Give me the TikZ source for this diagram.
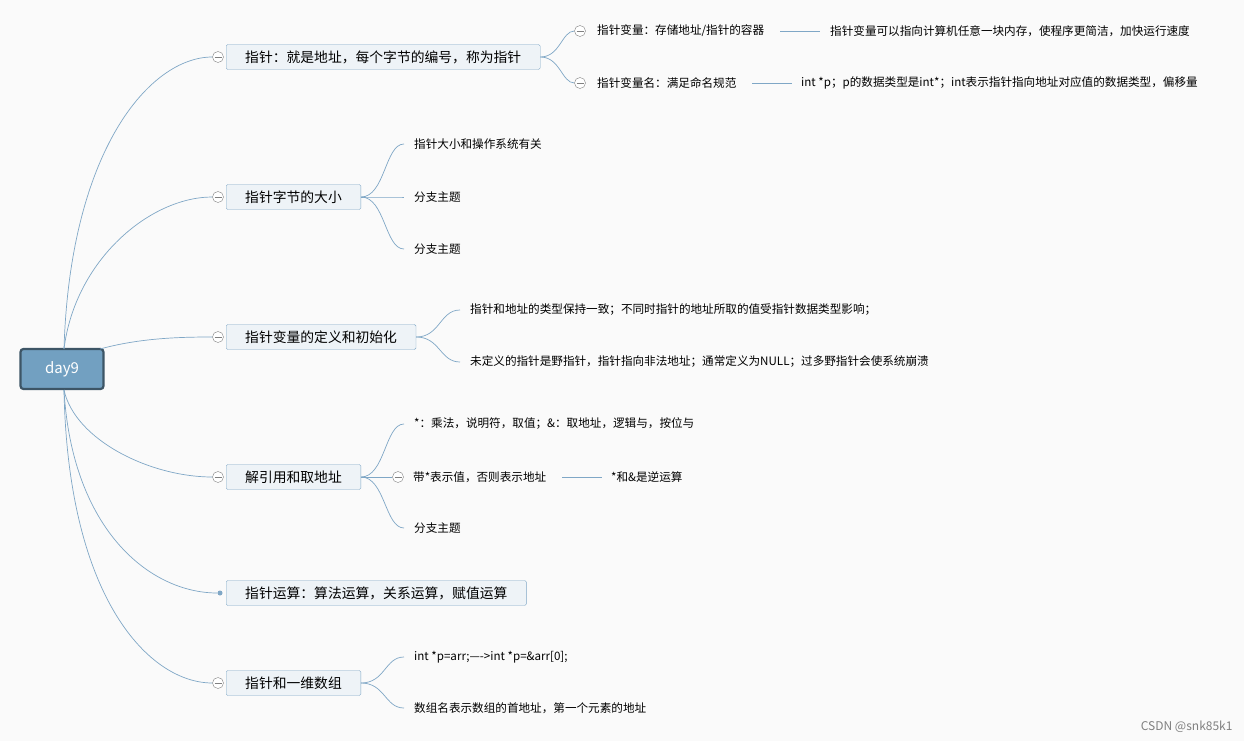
\documentclass[tikz,border=0pt]{standalone}
\usepackage{fontspec}
\setmainfont{Noto Sans CJK SC}
\definecolor{ln}{HTML}{7FA7C6}
\definecolor{bfill}{HTML}{EEF3F7}
\definecolor{rootf}{HTML}{72A0C1}
\definecolor{rootb}{HTML}{3D5566}
\begin{document}
\begin{tikzpicture}[x=1pt,y=-1pt,
  br/.style={draw=ln,fill=bfill,rounded corners=1.5pt,minimum height=25pt,anchor=west,inner xsep=19pt,font=\fontsize{13.8}{15}\selectfont},
  lf/.style={anchor=west,inner sep=0pt,font=\fontsize{11.6}{13}\selectfont},
  cl/.style={draw=gray,fill=white,circle,inner sep=0pt,minimum size=11pt,path picture={\draw[gray] ([xshift=-3.5pt]path picture bounding box.center) -- ([xshift=3.5pt]path picture bounding box.center);}},
  ed/.style={draw=ln,line width=0.7pt}]
\fill[white!98!black] (0,0) rectangle (1244,741);
\useasboundingbox (0,0) rectangle (1244,741);
\node[draw=rootb,line width=2.2pt,fill=rootf,rounded corners=3pt,minimum width=83pt,minimum height=40pt,text=white,font=\fontsize{15}{17}\selectfont] (root) at (62,369) {day9};
\coordinate (rt) at (64,349);
\coordinate (rr) at (100,349);
\coordinate (rb) at (64,390);
% branches
\node[br] (b1) at (226,57) {指针：就是地址，每个字节的编号，称为指针};
\node[br] (b2) at (226,197) {指针字节的大小};
\node[br] (b3) at (226,337) {指针变量的定义和初始化};
\node[br] (b4) at (226,477) {解引用和取地址};
\node[br] (b5) at (226,593) {指针运算：算法运算，关系运算，赋值运算};
\node[br] (b6) at (226,683) {指针和一维数组};
\node[cl] (c1) at (218,57) {}; \node[cl] (c2) at (218,197) {}; \node[cl] (c3) at (218,337) {};
\node[cl] (c4) at (218,477) {}; \node[cl] (c6) at (218,683) {};
\node[fill=ln,circle,inner sep=0pt,minimum size=5pt] (c5) at (220,593) {};
\draw[ed] (rt) .. controls (70,150) and (150,57) .. (c1.west);
\draw[ed] (rt) .. controls (75,260) and (150,197) .. (c2.west);
\draw[ed] (rr) .. controls (140,338) and (180,337) .. (c3.west);
\draw[ed] (rb) .. controls (75,440) and (150,477) .. (c4.west);
\draw[ed] (rb) .. controls (72,530) and (150,593) .. (c5.west);
\draw[ed] (rb) .. controls (68,600) and (150,683) .. (c6.west);
% b1 children
\node[cl] (k1) at (580,31) {}; \node[cl] (k2) at (580,83) {};
\node[lf] (t1) at (597,31) {指针变量：存储地址/指针的容器};
\node[lf] (t2) at (597,83) {指针变量名：满足命名规范};
\node[lf] (t1a) at (830,31) {指针变量可以指向计算机任意一块内存，使程序更简洁，加快运行速度};
\node[lf] (t2a) at (801,83) {int *p；p的数据类型是int*；int表示指针指向地址对应值的数据类型，偏移量};
\draw[ed] (b1.east) .. controls (560,57) and (562,31) .. (k1.west);
\draw[ed] (b1.east) .. controls (560,57) and (562,83) .. (k2.west);
\draw[ed] (780,31) -- (820,31);
\draw[ed] (752,83) -- (792,83);
% b2
\node[lf] (l21) at (414,144) {指针大小和操作系统有关};
\node[lf] (l22) at (414,197) {分支主题};
\node[lf] (l23) at (414,249) {分支主题};
\foreach \y in {144,197,249}
  \draw[ed] (b2.east) .. controls (385,197) and (385,\y) .. (404,\y);
% b3
\node[lf] (l31) at (470,310) {指针和地址的类型保持一致；不同时指针的地址所取的值受指针数据类型影响；};
\node[lf] (l32) at (470,362) {未定义的指针是野指针，指针指向非法地址；通常定义为NULL；过多野指针会使系统崩溃};
\foreach \y in {310,362}
  \draw[ed] (b3.east) .. controls (440,337) and (440,\y) .. (460,\y);
% b4
\node[lf] (l41) at (414,424) {*：乘法，说明符，取值；\&：取地址，逻辑与，按位与};
\node[cl] (k4) at (398,477) {};
\node[lf] (l42) at (413,477) {带*表示值，否则表示地址};
\node[lf] (l43) at (414,528) {分支主题};
\node[lf] (l42a) at (611,477) {*和\&是逆运算};
\draw[ed] (b4.east) .. controls (385,477) and (385,424) .. (404,424);
\draw[ed] (b4.east) -- (k4.west);
\draw[ed] (b4.east) .. controls (385,477) and (385,528) .. (404,528);
\draw[ed] (562,477) -- (602,477);
% b6
\node[lf] (l61) at (414,657) {int *p=arr;---->int *p=\&arr[0];};
\node[lf] (l62) at (414,708) {数组名表示数组的首地址，第一个元素的地址};
\foreach \y in {657,708}
  \draw[ed] (b6.east) .. controls (385,683) and (385,\y) .. (404,\y);
\node[anchor=east,text=gray,font=\fontsize{12}{13}\selectfont] (wm) at (1236,727) {CSDN @snk85k1};
\end{tikzpicture}
\end{document}
